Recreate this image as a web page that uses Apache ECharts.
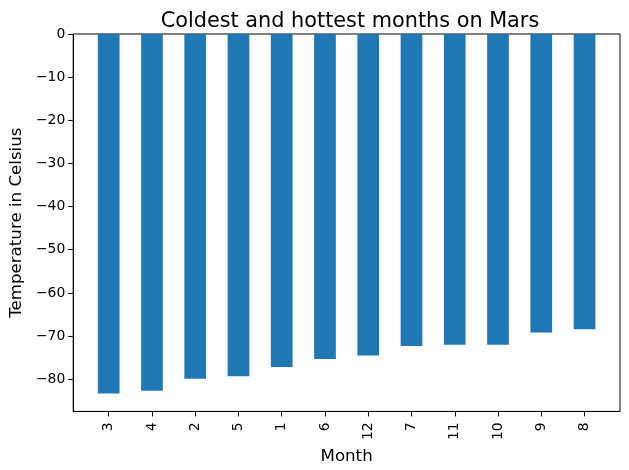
<!DOCTYPE html>
<html>
<head>
<meta charset="utf-8">
<script src="https://cdn.jsdelivr.net/npm/echarts@6/dist/echarts.min.js"></script>
<style>html,body{margin:0;padding:0;background:#fff}#c{width:629px;height:470px}</style>
</head>
<body>
<div id="c"></div>
<script>
const categories = ['3', '4', '2', '5', '1', '6', '12', '7', '11', '10', '9', '8'];
const temps = [-83.3, -82.7, -79.9, -79.3, -77.2, -75.3, -74.5, -72.3, -72.0, -72.0, -69.2, -68.4];
const yTicks = [0, -10, -20, -30, -40, -50, -60, -70, -80];
const titleText = 'Coldest and hottest months on Mars';
const xName = 'Month';
const yName = 'Temperature in Celsius';

const FONT = 'DejaVu Sans';
const chart = echarts.init(document.getElementById('c'), null, {renderer: 'canvas'});
const xIdx = categories.map((c, i) => i);
chart.setOption({
  animation: false,
  title: {
    text: titleText, left: 345, top: 6, textAlign: 'center',
    textStyle: {fontFamily: FONT, fontSize: 20.8, fontWeight: 'normal', color: '#000'}
  },
  grid: {left: 70, right: 9, top: 34, bottom: 58, show: true, borderColor: '#000', borderWidth: 1, containLabel: false},
  xAxis: {
    type: 'value', min: -0.82, max: 11.82,
    name: xName, nameLocation: 'middle', nameGap: 28,
    nameTextStyle: {fontFamily: FONT, fontSize: 16.67, color: '#000'},
    axisLine: {show: true, onZero: false, lineStyle: {color: '#000', width: 1}},
    axisTick: {show: true, length: 5, customValues: xIdx, lineStyle: {color: '#000', width: 1}},
    axisLabel: {rotate: 90, margin: 11, fontFamily: FONT, fontSize: 13.9, color: '#000',
      customValues: xIdx, formatter: v => categories[Math.round(v)]},
    splitLine: {show: false}
  },
  yAxis: {
    type: 'value', min: -87.47, max: 0,
    name: yName, nameLocation: 'middle', nameGap: 42,
    nameTextStyle: {fontFamily: FONT, fontSize: 16.67, color: '#000'},
    axisLine: {show: true, onZero: false, lineStyle: {color: '#000', width: 1}},
    axisTick: {show: true, length: 5, customValues: yTicks, lineStyle: {color: '#000', width: 1}},
    axisLabel: {margin: 8, fontFamily: FONT, fontSize: 13.9, color: '#000',
      customValues: yTicks, formatter: v => String(v).replace('-', '\u2212')},
    splitLine: {show: false}
  },
  series: [{
    type: 'bar',
    data: categories.map((c, i) => [i, temps[i]]),
    barWidth: 21.7,
    itemStyle: {color: '#1f77b4'}
  }]
});
</script>
</body>
</html>
